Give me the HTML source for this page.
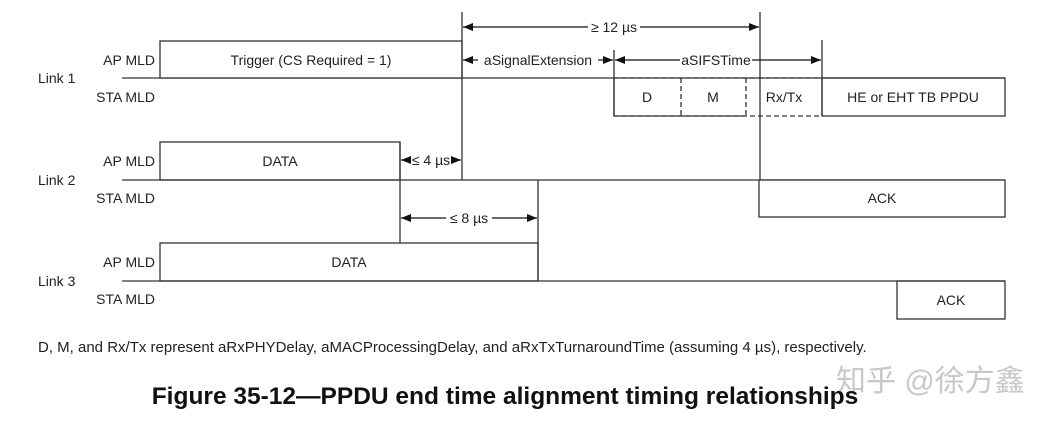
<!DOCTYPE html>
<html><head><meta charset="utf-8"><style>
html,body{margin:0;padding:0;background:#fff;width:1062px;height:422px;overflow:hidden;position:relative}
svg{position:absolute;left:0;top:0}
svg text{font-family:"Liberation Sans",sans-serif;fill:#222}
.cap{position:absolute;left:0;width:1010px;top:383px;text-align:center;font:bold 24.5px "Liberation Sans",sans-serif;color:#111}
.wm{position:absolute;left:836px;top:356px;font:30px "Liberation Sans","Noto Sans CJK SC",sans-serif;color:#c8c8c8;white-space:nowrap}
</style></head><body>
<svg width="1062" height="422" viewBox="0 0 1062 422">
<defs>
<marker id="a" markerWidth="10" markerHeight="8" refX="10" refY="4" orient="auto-start-reverse" markerUnits="userSpaceOnUse"><path d="M0,0 L10,4 L0,8 z" fill="#111"/></marker>
</defs>
<g stroke="#333" stroke-width="1.3" fill="none">
<line x1="122" y1="78" x2="1005" y2="78"/>
<rect x="160" y="41" width="302" height="37" fill="#fff"/>
<path d="M614 78 V116 H746"/>
<path d="M614 116 H822 M681 78 V116 M746 78 V116 M614 78 H822" stroke-dasharray="5,3"/>
<line x1="614" y1="50" x2="614" y2="116"/>
<rect x="822" y="78" width="183" height="38"/>
<line x1="822" y1="40" x2="822" y2="116"/>
<line x1="462" y1="12" x2="462" y2="180"/>
<line x1="760" y1="12" x2="760" y2="180"/>
<line x1="122" y1="180" x2="1005" y2="180"/>
<rect x="160" y="142" width="240" height="38"/>
<line x1="400" y1="142" x2="400" y2="243"/>
<line x1="538" y1="180" x2="538" y2="281"/>
<rect x="759" y="180" width="246" height="37" fill="#fff"/>
<line x1="122" y1="281" x2="1005" y2="281"/>
<rect x="160" y="243" width="378" height="38"/>
<rect x="897" y="281" width="108" height="38"/>
</g>
<g stroke="#111" stroke-width="1.2">
<line x1="463" y1="27" x2="588" y2="27" marker-start="url(#a)"/>
<line x1="640" y1="27" x2="759" y2="27" marker-end="url(#a)"/>
<line x1="463" y1="60" x2="478" y2="60" marker-start="url(#a)"/>
<line x1="598" y1="60" x2="613" y2="60" marker-end="url(#a)"/>
<line x1="615" y1="60" x2="680" y2="60" marker-start="url(#a)"/>
<line x1="752" y1="60" x2="821" y2="60" marker-end="url(#a)"/>
<line x1="401" y1="160" x2="411" y2="160" marker-start="url(#a)"/>
<line x1="452" y1="160" x2="461" y2="160" marker-end="url(#a)"/>
<line x1="401" y1="218" x2="446" y2="218" marker-start="url(#a)"/>
<line x1="492" y1="218" x2="537" y2="218" marker-end="url(#a)"/>
</g>
<g font-size="14">
<text x="155" y="65" text-anchor="end">AP MLD</text>
<text x="155" y="102" text-anchor="end">STA MLD</text>
<text x="38" y="83">Link 1</text>
<text x="155" y="166" text-anchor="end">AP MLD</text>
<text x="155" y="203" text-anchor="end">STA MLD</text>
<text x="38" y="185">Link 2</text>
<text x="155" y="267" text-anchor="end">AP MLD</text>
<text x="155" y="304" text-anchor="end">STA MLD</text>
<text x="38" y="286">Link 3</text>
<text x="311" y="65" text-anchor="middle">Trigger (CS Required = 1)</text>
<text x="280" y="166" text-anchor="middle">DATA</text>
<text x="349" y="267" text-anchor="middle">DATA</text>
<text x="647" y="102" text-anchor="middle">D</text>
<text x="713" y="102" text-anchor="middle">M</text>
<text x="784" y="102" text-anchor="middle">Rx/Tx</text>
<text x="913" y="102" text-anchor="middle">HE or EHT TB PPDU</text>
<text x="882" y="203" text-anchor="middle">ACK</text>
<text x="951" y="305" text-anchor="middle">ACK</text>
<text x="614" y="32" text-anchor="middle">≥ 12 µs</text>
<text x="538" y="65" text-anchor="middle">aSignalExtension</text>
<text x="716" y="65" text-anchor="middle">aSIFSTime</text>
<text x="431" y="165" text-anchor="middle">≤ 4 µs</text>
<text x="469" y="223" text-anchor="middle">≤ 8 µs</text>
<text x="38" y="352" font-size="15">D, M, and Rx/Tx represent aRxPHYDelay, aMACProcessingDelay, and aRxTxTurnaroundTime (assuming 4 µs), respectively.</text>
</g>
</svg>
<div class="wm">知乎 @徐方鑫</div>
<div class="cap">Figure 35-12—PPDU end time alignment timing relationships</div>
</body></html>
